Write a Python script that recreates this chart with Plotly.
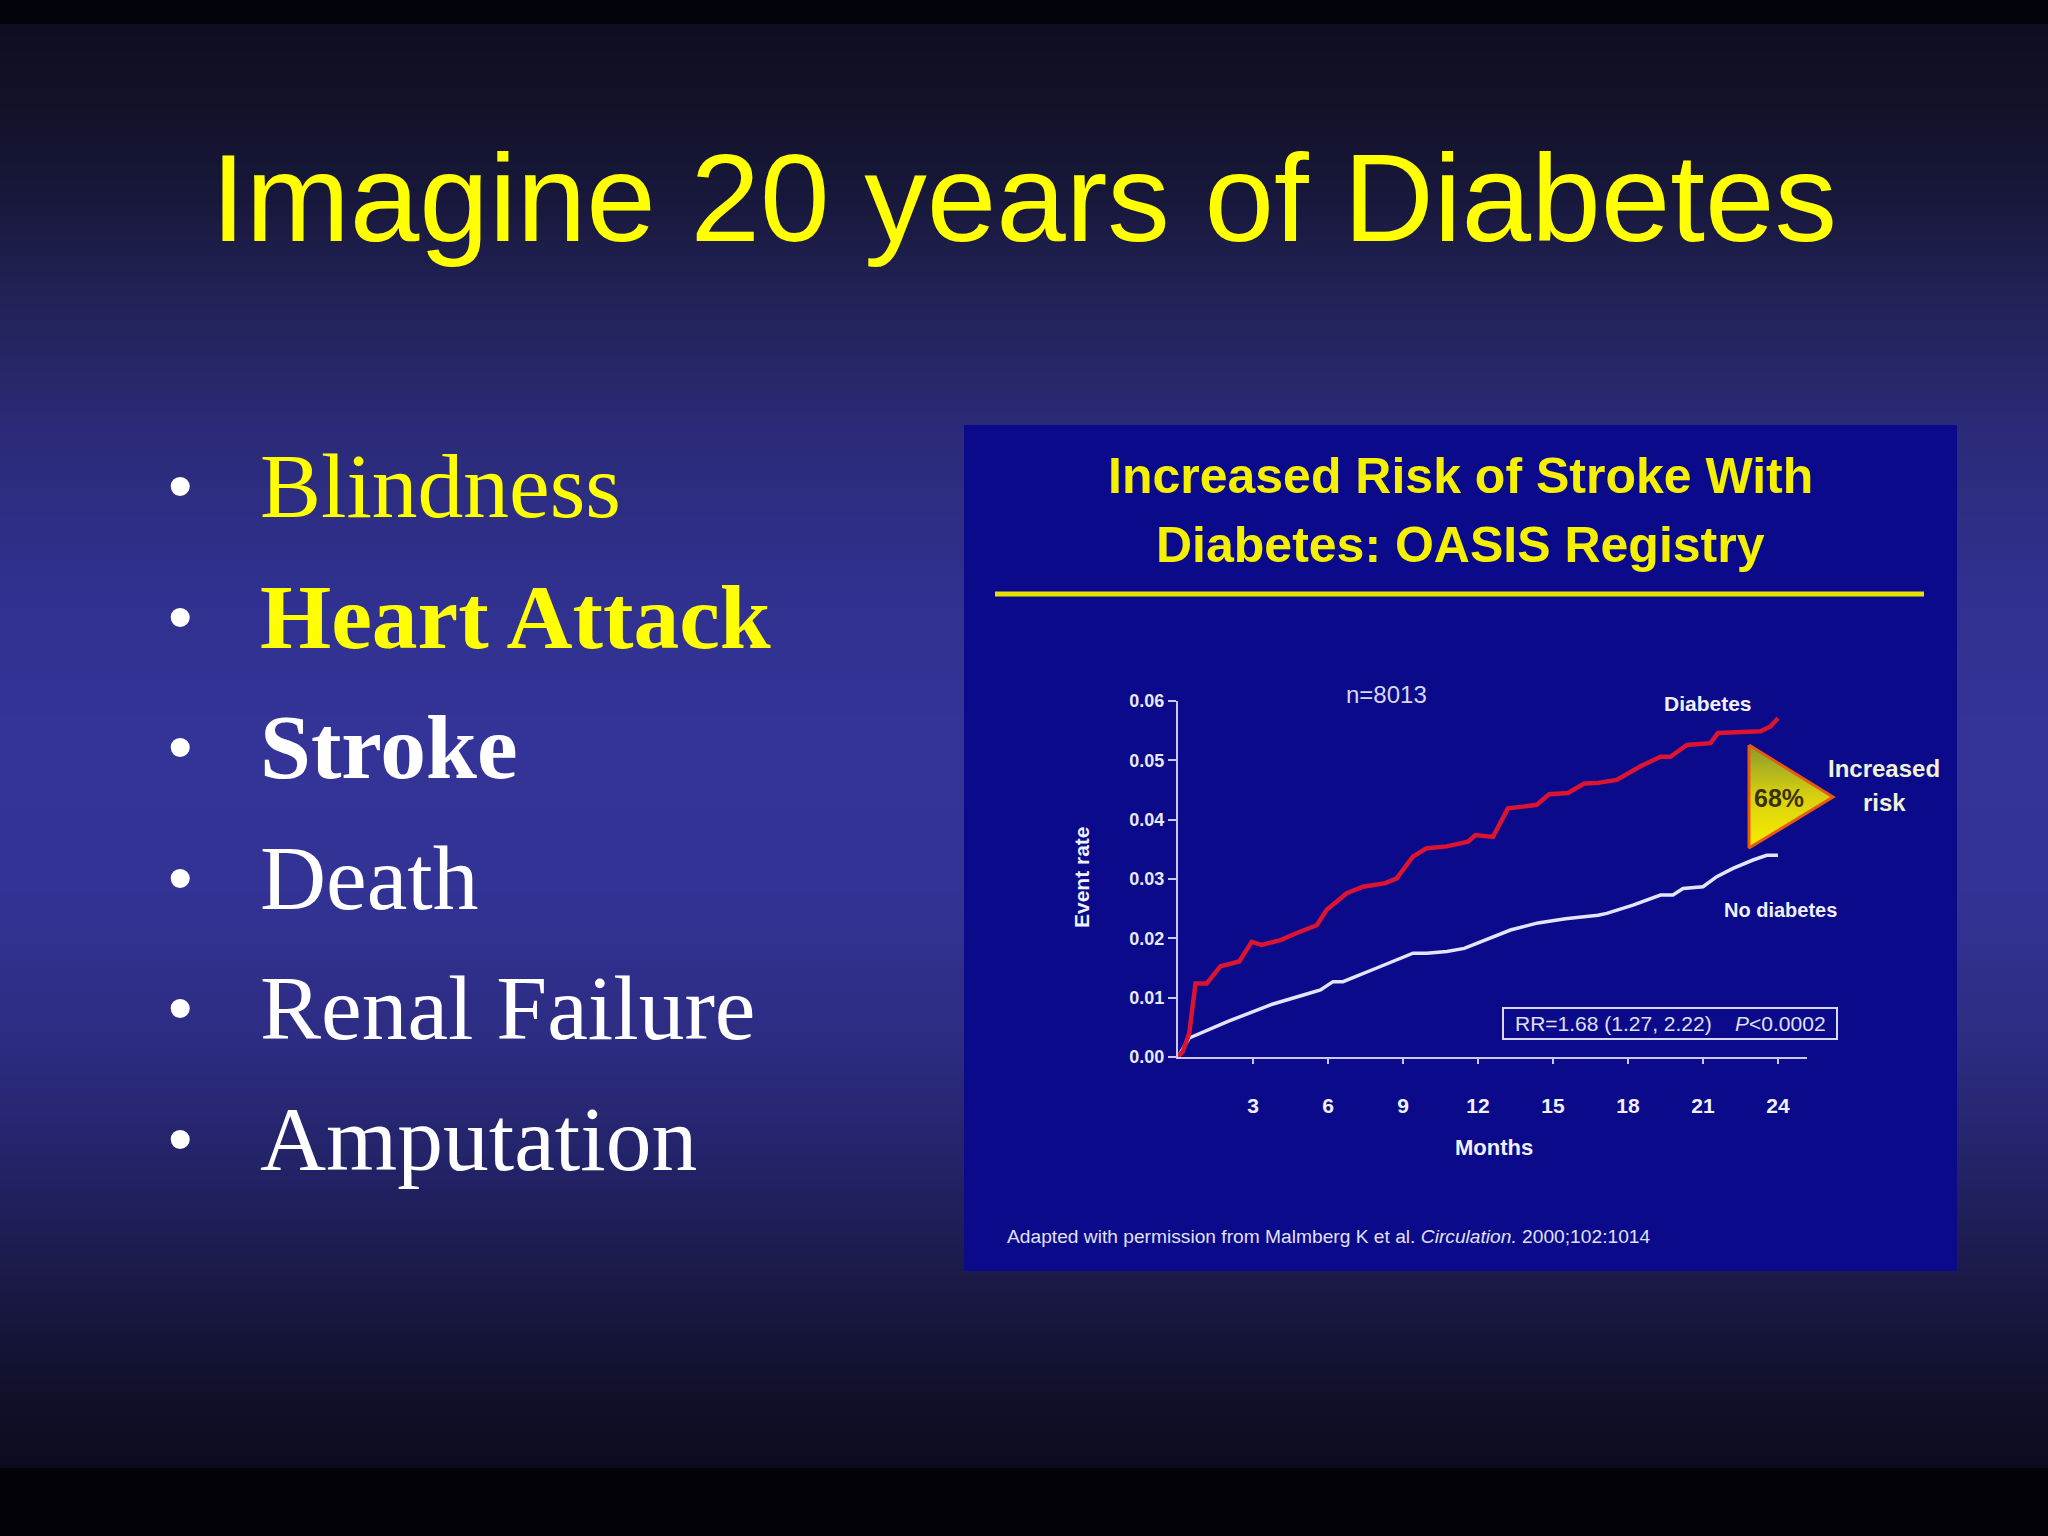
import plotly.graph_objects as go

W, H = 2048, 1536

# --- data ---
diab_month = [0, 0.2, 0.45, 0.7, 1.15, 1.45, 1.7, 2.45, 2.95, 3.35, 4.1, 4.75, 5.3, 5.55,
              5.95, 6.75, 7.4, 8.3, 8.75, 9.4, 9.95, 10.75, 11.6, 11.9, 12.6, 13.2, 13.8,
              14.35, 14.85, 15.6, 16.25, 16.8, 17.55, 18.5, 19.3, 19.7, 20.35, 21.3, 21.6,
              23.3, 23.7, 24.0]
diab_rate = [0, 0.001, 0.004, 0.0124, 0.0124, 0.0141, 0.0153, 0.0161, 0.0194, 0.0189, 0.0197,
             0.0209, 0.0217, 0.0222, 0.0248, 0.0276, 0.0287, 0.0293, 0.0301, 0.0338, 0.0352,
             0.0355, 0.0363, 0.0374, 0.0371, 0.0419, 0.0422, 0.0425, 0.0443, 0.0445, 0.0461,
             0.0462, 0.0467, 0.049, 0.0506, 0.0506, 0.0526, 0.0529, 0.0546, 0.0549, 0.0557,
             0.0571]

nodiab_month = [0, 0.45, 2.0, 3.7, 5.05, 5.7, 6.2, 6.6, 7.95, 8.75, 9.4, 9.95, 10.75, 11.45,
                12.25, 13.3, 14.4, 15.5, 16.8, 17.15, 18.2, 19.3, 19.8, 20.2, 21.0, 21.55,
                22.2, 23.0, 23.55, 24.0]
nodiab_rate = [0, 0.0032, 0.006, 0.0088, 0.0105, 0.0113, 0.0127, 0.0127, 0.015, 0.0164,
               0.0175, 0.0175, 0.0178, 0.0183, 0.0197, 0.0214, 0.0226, 0.0233, 0.0239,
               0.0242, 0.0256, 0.0273, 0.0273, 0.0284, 0.0287, 0.0304, 0.0318, 0.0332,
               0.034, 0.034]

month_ticks = [3, 6, 9, 12, 15, 18, 21, 24]
rate_ticks = [0.0, 0.01, 0.02, 0.03, 0.04, 0.05, 0.06]

bullets = ["Blindness", "Heart Attack", "Stroke", "Death", "Renal Failure", "Amputation"]
bullet_color = ["#ffff00", "#ffff00", "#ffffff", "#ffffff", "#ffffff", "#ffffff"]
bullet_bold = [False, True, True, False, False, False]

SANS = "Liberation Sans, Arial, sans-serif"
SERIF = "Liberation Serif, Times New Roman, serif"


def px(x):
    return x / W


def py(y):
    return 1 - y / H


# background gradient stops (y in px, colour)
bg_stops = [(0, "#03030c"), (22, "#03030c"), (24, "#0f0e1f"), (100, "#121128"),
            (200, "#18183c"), (300, "#222258"), (440, "#2b2b7a"), (590, "#30308f"),
            (735, "#343498"), (880, "#333396"), (1030, "#2d2d84"), (1175, "#222266"),
            (1275, "#1b1a48"), (1370, "#121230"), (1466, "#0c0b1e"), (1468, "#020208"),
            (1536, "#020208")]


def hex_rgb(c):
    return tuple(int(c[i:i + 2], 16) for i in (1, 3, 5))


def bg_color(y):
    for (y0, c0), (y1, c1) in zip(bg_stops, bg_stops[1:]):
        if y0 <= y <= y1:
            t = 0 if y1 == y0 else (y - y0) / (y1 - y0)
            a, b = hex_rgb(c0), hex_rgb(c1)
            return "rgb(%d,%d,%d)" % tuple(round(a[k] + (b[k] - a[k]) * t) for k in range(3))
    return bg_stops[-1][1]


shapes = []
step = 4
for y in range(0, H, step):
    # strips overlap by a couple of px so no seams show
    shapes.append(dict(type="rect", xref="paper", yref="paper", x0=0, x1=1,
                       y0=py(min(y + step + 2, H)), y1=py(y), fillcolor=bg_color(y + step / 2),
                       line=dict(width=0), layer="below"))

# chart panel
shapes.append(dict(type="rect", xref="paper", yref="paper", x0=px(964), x1=px(1957),
                   y0=py(1271), y1=py(425), fillcolor="#0a0a8a", line=dict(width=0),
                   layer="below"))
# yellow rule under the panel title
shapes.append(dict(type="line", xref="paper", yref="paper", x0=px(995), x1=px(1924),
                   y0=py(594), y1=py(594), line=dict(color="#e8e000", width=5)))
# RR box
shapes.append(dict(type="rect", xref="paper", yref="paper", x0=px(1503), x1=px(1837),
                   y0=py(1039), y1=py(1008), line=dict(color="#d8d8f4", width=2)))

fig = go.Figure()

fig.add_trace(go.Scatter(x=nodiab_month, y=nodiab_rate, mode="lines", name="No diabetes",
                         line=dict(color="#e4e4ff", width=3.5), showlegend=False))
fig.add_trace(go.Scatter(x=diab_month, y=diab_rate, mode="lines", name="Diabetes",
                         line=dict(color="#dc1430", width=4.5), showlegend=False))

# 68% arrow triangle on a page-sized overlay axis
fig.add_trace(go.Scatter(x=[1749, 1833, 1749, 1749], y=[745, 797, 848, 745],
                         xaxis="x2", yaxis="y2", mode="lines", fill="toself",
                         line=dict(color="#e85a10", width=3),
                         fillgradient=dict(type="vertical", start=745, stop=848,
                                           colorscale=[[0, "#8a9a2a"], [0.5, "#d8d010"],
                                                       [1, "#f8ee00"]]),
                         hoverinfo="skip", showlegend=False))

ann = []
# slide title
ann.append(dict(text="Imagine 20 years of Diabetes", x=0.5, y=py(197), xref="paper",
                yref="paper", showarrow=False, xanchor="center", yanchor="middle",
                font=dict(family=SANS, size=125, color="#ffff00")))
# bullets
for i, (txt, col, bold) in enumerate(zip(bullets, bullet_color, bullet_bold)):
    yc = 486 + 130.6 * i
    ann.append(dict(text="\u2022", x=px(166), y=py(yc), xref="paper", yref="paper",
                    showarrow=False, xanchor="left", yanchor="middle",
                    font=dict(family=SANS, size=70, color="#ffffff")))
    ann.append(dict(text=txt, x=px(258), y=py(yc), xref="paper", yref="paper",
                    showarrow=False, xanchor="left", yanchor="middle",
                    font=dict(family=SERIF, size=91.5, color=col,
                              weight="bold" if bold else "normal")))
# panel title
for txt, yc in [("Increased Risk of Stroke With", 476), ("Diabetes: OASIS Registry", 545)]:
    ann.append(dict(text=txt, x=px(1460), y=py(yc), xref="paper", yref="paper",
                    showarrow=False, xanchor="center", yanchor="middle",
                    font=dict(family=SANS, size=50, color="#f4f000", weight="bold")))

small = [
    ("n=8013", 1386, 694, 24, "#d8d8f0", "normal", "center"),
    ("Diabetes", 1708, 704, 21, "#f0f0ff", "bold", "center"),
    ("No diabetes", 1780, 910, 20, "#f0f0ff", "bold", "center"),
    ("Increased", 1884, 768, 24, "#f2f2d8", "bold", "center"),
    ("risk", 1884, 802, 24, "#f2f2d8", "bold", "center"),
    ("68%", 1779, 798, 25, "#3a3000", "bold", "center"),
    ("RR=1.68 (1.27, 2.22)\u00a0\u00a0\u00a0\u00a0<i>P</i>&lt;0.0002", 1670, 1023, 21,
     "#e0e0f4", "normal", "center"),
    ("Months", 1494, 1147, 22, "#f0f0ff", "bold", "center"),
    ("Adapted with permission from Malmberg K et al. <i>Circulation.</i> 2000;102:1014",
     1005, 1236, 19.2, "#e0e0f4", "normal", "left"),
]
for txt, x, y, s, c, wt, xa in small:
    ann.append(dict(text=txt, x=px(x), y=py(y), xref="paper", yref="paper", showarrow=False,
                    xanchor=xa, yanchor="middle",
                    font=dict(family=SANS, size=s, color=c, weight=wt)))
ann.append(dict(text="Event rate", x=px(1081), y=py(877), xref="paper", yref="paper",
                showarrow=False, textangle=-90, xanchor="center", yanchor="middle",
                font=dict(family=SANS, size=21, color="#f0f0ff", weight="bold")))

axis_col = "#c8c8f0"
fig.update_layout(
    width=W, height=H, margin=dict(l=0, r=0, t=0, b=0, autoexpand=False),
    paper_bgcolor="#020208", plot_bgcolor="rgba(0,0,0,0)",
    shapes=shapes, annotations=ann,
    xaxis=dict(domain=[px(1178), px(1807)], range=[0, 25.16], tickvals=month_ticks,
               showline=True, linecolor=axis_col, linewidth=2, ticks="outside",
               ticklen=5, tickwidth=2, tickcolor=axis_col, showgrid=False, zeroline=False,
               ticklabelstandoff=24,
               tickfont=dict(family=SANS, size=21, color="#f0f0ff", weight="bold")),
    yaxis=dict(domain=[py(1057), py(701)], range=[0, 0.06], tickvals=rate_ticks,
               tickformat=".2f", showline=True, linecolor=axis_col, linewidth=2,
               ticks="outside", ticklen=8, tickwidth=2, tickcolor=axis_col,
               showgrid=False, zeroline=False,
               tickfont=dict(family=SANS, size=18, color="#e8e8f8", weight="bold")),
    xaxis2=dict(domain=[0, 1], range=[0, W], visible=False, fixedrange=True),
    yaxis2=dict(domain=[0, 1], range=[H, 0], visible=False, fixedrange=True),
)

fig.write_html("out.html", config={"displayModeBar": False},
               post_script="document.body.style.margin='0';"
                           "document.body.style.overflow='hidden';")
